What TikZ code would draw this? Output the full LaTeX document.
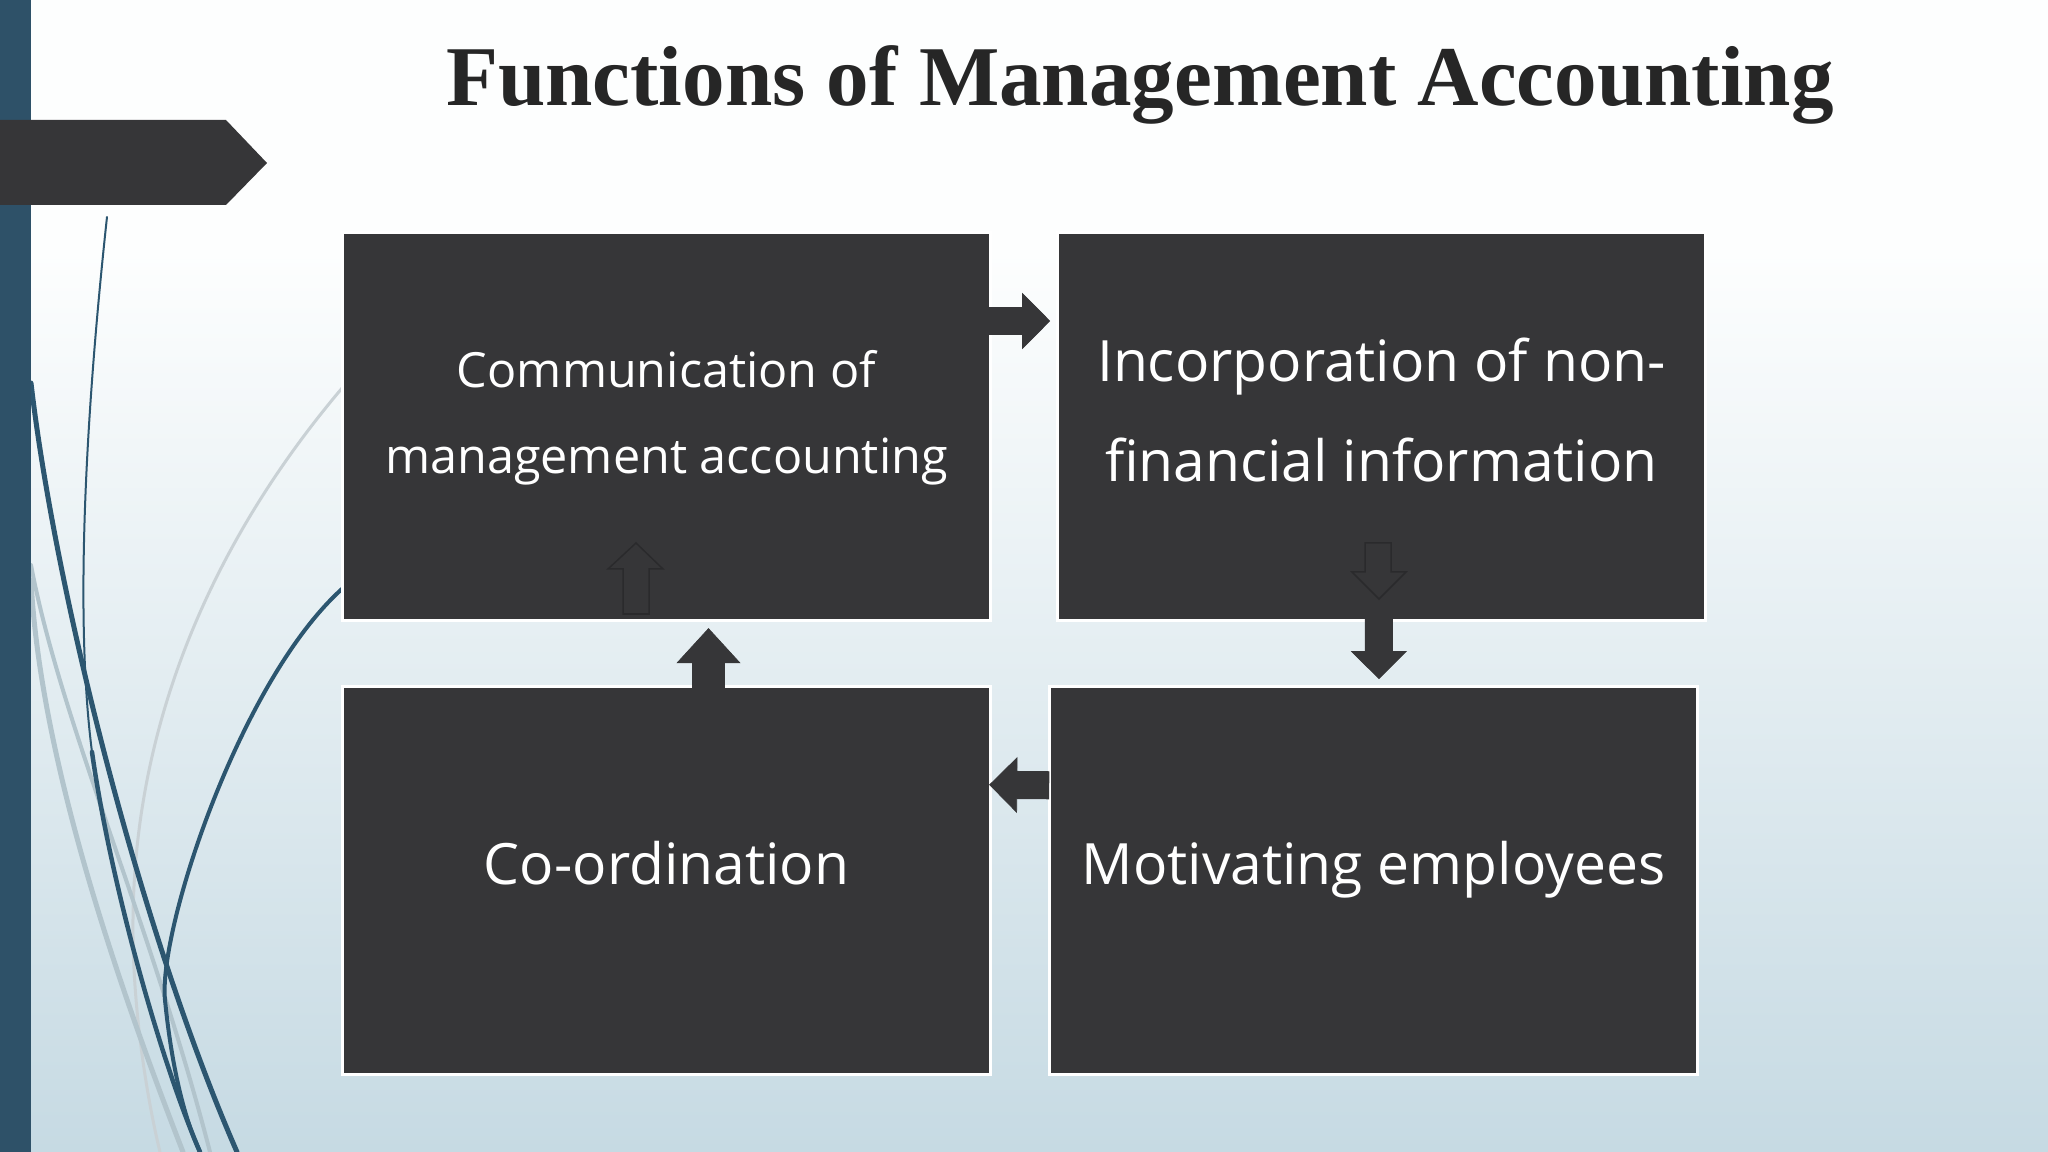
\documentclass[tikz,border=0pt]{standalone}
\usepackage{fontspec}
\setmainfont{Liberation Serif}
\newfontfamily\boxfont{Open Sans}
\usetikzlibrary{positioning,arrows.meta}
\definecolor{slidebar}{HTML}{2E5168}
\definecolor{boxgray}{HTML}{363638}
\definecolor{echogray}{HTML}{2A2A2C}
\definecolor{titleink}{HTML}{262626}
\definecolor{bgtop}{HTML}{FDFEFE}
\definecolor{bgbottom}{HTML}{C6DAE3}
\definecolor{wiredark}{HTML}{2C5670}
\definecolor{wiregray}{HTML}{B2C4CC}
\definecolor{wirelight}{HTML}{C9D1D5}
\tikzset{
	fnbox/.style={rectangle,draw=white,fill=boxgray,line width=0.3mm,
		minimum width=6.48cm,minimum height=3.88cm,inner sep=0pt},
	fntext/.style={text=white,align=center,font=\boxfont\fontsize{16.2}{28.4}\selectfont},
	fnsmall/.style={text=white,align=center,font=\boxfont\fontsize{13.8}{24.4}\selectfont},
	flow/.style={draw=boxgray,line width=2.8mm,
		-{Triangle[length=2.8mm,width=5.6mm,line width=0.2pt]}},
	echo/.style={draw=echogray,line width=0.15mm,line join=miter},
	wire/.style={line cap=round}
}

\begin{document}
\begin{tikzpicture}[x=0.01cm,y=-0.01cm]
	\useasboundingbox (0,0) rectangle (2048,1152);
	
	% slide background
	\fill[bgtop] (0,0) rectangle (2048,250);
	\shade[top color=bgtop,bottom color=bgbottom] (0,250) rectangle (2048,1152);
	
	% decorative wires
	\draw[wire,wirelight,line width=0.3mm] (343,387) .. controls (230,520) and (135,700) .. (133,919)
		.. controls (132,1000) and (145,1090) .. (160,1152);
	\draw[wire,wiregray,line width=0.5mm] (31,580) .. controls (40,760) and (120,990) .. (183,1152);
	\draw[wire,wiregray,line width=0.4mm] (31,565) .. controls (60,720) and (150,920) .. (210,1152);
	\draw[wire,wiredark,line width=0.2mm] (107,217) .. controls (85,420) and (75,620) .. (92,752);
	\draw[wire,wiredark,line width=0.45mm] (92,752) .. controls (110,880) and (160,1060) .. (200,1152);
	\draw[wire,wiredark,line width=0.5mm] (31,383) .. controls (55,590) and (140,930) .. (237,1152);
	\draw[wire,wiredark,line width=0.4mm] (343,588) .. controls (240,680) and (158,930) .. (165,1000)
		.. controls (172,1070) and (185,1120) .. (200,1152);
	
	% left bar and tag
	\fill[slidebar] (0,0) rectangle (31,1152);
	\fill[boxgray] (0,120) -- (226,120) -- (267,163) -- (226,205) -- (0,205) -- cycle;
	
	\node[font=\bfseries\fontsize{24.2}{29}\selectfont,text=titleink,anchor=base] (title) at (1140,106)
		{Functions of Management Accounting};
	
	% the four functions
	\node[fnbox] (comm) at (666.5,426.5) {};
	\node[fnbox] (incorp) [right=6.35mm of comm] {};
	\node[fnbox] (coord) [below=6.3mm of comm] {};
	\node[fnbox] (motiv) [right=5.55mm of coord] {};
	
	\node[fnsmall] (commtext) at ([yshift=0.85mm]comm.center) {Communication of\\management accounting};
	\node[fntext] (incorptext) at ([yshift=1.65mm]incorp.center) {Incorporation of non-\\financial information};
	\node[fntext] (coordtext) at ([yshift=1.8mm]coord.center) {Co-ordination};
	\node[fntext] (motivtext) at ([yshift=1.15mm]motiv.center) {Motivating employees};
	
	% faint echoes
	\draw[echo] (623,614) -- (623,569) -- (608,569) -- (636,543) -- (663,569) -- (649,569) -- (649,614) -- cycle;
	\draw[echo] (1365,543) -- (1391,543) -- (1391,572) -- (1406,572) -- (1379,599) -- (1352,572) -- (1365,572) -- cycle;
	
	% cycle arrows
	\draw[flow] ([shift={(-4,-105.5)}]comm.east) -- ([shift={(-5.5,-105.5)}]incorp.west);
	\draw[flow] ([shift={(-2.5,-9)}]incorp.south) -- ([shift={(5.5,-6)}]motiv.north);
	\draw[flow] ([shift={(1.5,-95.5)}]motiv.west) -- ([shift={(-3,-96)}]coord.east);
	\draw[flow,line width=3.3mm,-{Triangle[length=3.5mm,width=6.4mm,line width=0.2pt]}]
		([shift={(42,12)}]coord.north) -- ([shift={(42,6)}]comm.south);
\end{tikzpicture}
\end{document}
